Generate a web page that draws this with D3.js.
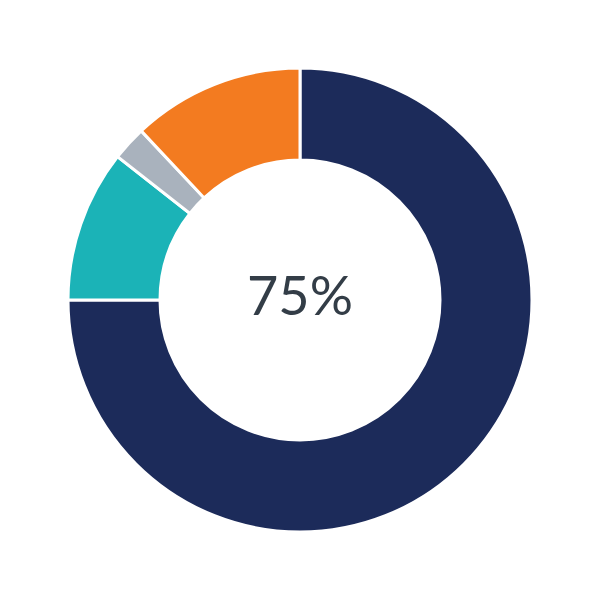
<!DOCTYPE html>
<html>
<head>
<meta charset="utf-8">
<script src="https://cdn.jsdelivr.net/npm/d3@7"></script>
<style>
  body { margin: 0; background: #fff; }
  svg { display: block; }
</style>
</head>
<body>
<div class="graph"></div>
<script>
// Data
var categories = ['A', 'B', 'C', 'D'];
var values = [75, 10.6, 2.4, 12];
var colors = ['#1c2b5a', '#1bb3b7', '#a9b2bd', '#f37b20'];
var centerLabel = '75%';

var config = {
  width: 600,
  height: 600,
  outer: 232,
  inner: 140
};

var svg = d3.select('.graph')
  .append('svg')
  .attr('width', config.width)
  .attr('height', config.height);

var g = svg.append('g')
  .attr('transform', 'translate(' + config.width/2 + ',' + config.height/2 + ')');

var pie = d3.pie()
  .sort(null)
  .value((d, i) =>{ return values[i]; });

var arc = d3.arc()
  .innerRadius(config.inner)
  .outerRadius(config.outer);

var color = d3.scaleOrdinal()
  .domain(categories)
  .range(colors);

// Slices
g.selectAll('.slice')
  .data(pie(categories))
  .enter()
  .append('path')
  .attr('class', 'slice')
  .attr('d', arc)
  .attr('fill', (d) =>{ return color(d.data); })
  .attr('stroke', '#fff')
  .attr('stroke-width', 3);

// Center label
g.append('text')
  .text(centerLabel)
  .attr('text-anchor', 'middle')
  .attr('y', 15)
  .style('font-family', 'Lato, sans-serif')
  .style('font-size', '54px')
  .style('fill', '#333d47');
</script>
</body>
</html>
